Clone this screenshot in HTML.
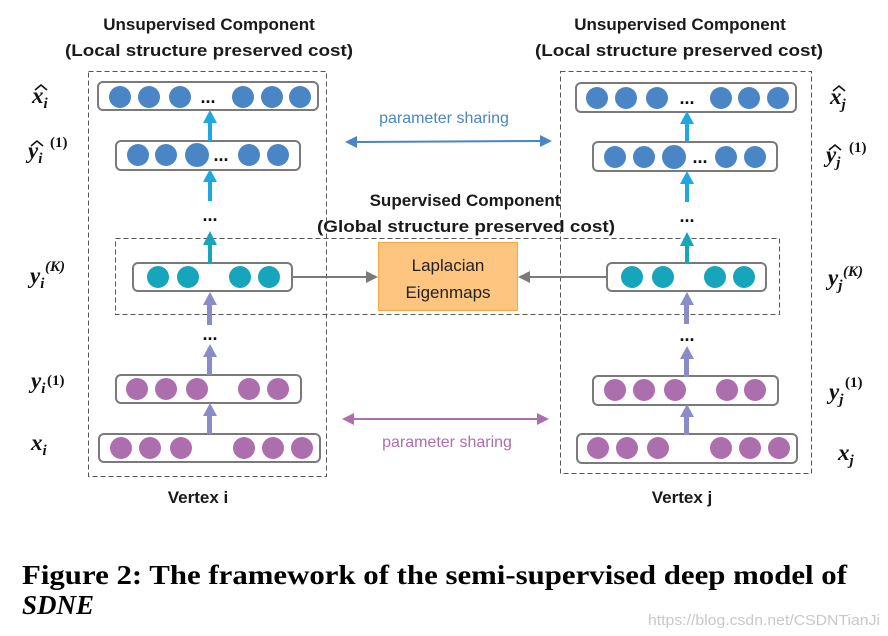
<!DOCTYPE html>
<html><head><meta charset="utf-8"><style>
html,body{margin:0;padding:0;background:#fff;width:888px;height:636px;overflow:hidden}
svg{display:block}
.h{font-family:"Liberation Sans",sans-serif;font-weight:bold;font-size:17px;fill:#1a1a1a}
.m{font-family:"Liberation Serif",serif;font-weight:bold;font-style:italic;font-size:23px;fill:#111}
.s{font-size:15px}
.p{font-family:"Liberation Serif",serif;font-weight:bold;font-size:15px;fill:#111}
.box{fill:#fff;stroke:#7a7a7a;stroke-width:2}
.bl{fill:#4a86c5}.tl{fill:#17a5bb}.pu{fill:#ad6eae}
.dash{fill:none;stroke:#555;stroke-width:1;stroke-dasharray:5,3}
.dots{font-family:"Liberation Sans",sans-serif;font-weight:bold;font-size:18px;fill:#111}
.hat{fill:none;stroke:#111;stroke-width:1.6}
</style></head><body>
<svg width="888" height="636" viewBox="0 0 888 636" xmlns="http://www.w3.org/2000/svg">
<text class="h" x="209" y="30" text-anchor="middle">Unsupervised Component</text>
<text class="h" x="209" y="56" text-anchor="middle" textLength="288" lengthAdjust="spacingAndGlyphs">(Local structure preserved cost)</text>
<text class="h" x="680" y="30" text-anchor="middle">Unsupervised Component</text>
<text class="h" x="679" y="56" text-anchor="middle" textLength="288" lengthAdjust="spacingAndGlyphs">(Local structure preserved cost)</text>
<text class="h" x="465" y="206" text-anchor="middle">Supervised Component</text>
<text class="h" x="466" y="232" text-anchor="middle" textLength="298" lengthAdjust="spacingAndGlyphs">(Global structure preserved cost)</text>

<rect class="dash" x="88.5" y="71.5" width="238" height="405"/>
<rect class="dash" x="560.5" y="71.5" width="251" height="402"/>
<rect class="dash" x="115.5" y="238.5" width="664" height="76"/>

<rect x="378.5" y="242.5" width="139" height="68" fill="#fdc57f" stroke="#f5a742" stroke-width="1"/>
<text x="448" y="271" text-anchor="middle" font-family="Liberation Sans,sans-serif" font-size="17" fill="#222">Laplacian</text>
<text x="448" y="298" text-anchor="middle" font-family="Liberation Sans,sans-serif" font-size="17" fill="#222">Eigenmaps</text>
<line x1="292" y1="277" x2="368" y2="277" stroke="#7a7a7a" stroke-width="2"/>
<polygon points="378,277 366,271 366,283" fill="#7a7a7a"/>
<line x1="607" y1="277" x2="528" y2="277" stroke="#7a7a7a" stroke-width="2"/>
<polygon points="518,277 530,271 530,283" fill="#7a7a7a"/>

<line x1="355" y1="142" x2="542" y2="141" stroke="#4a86c5" stroke-width="2"/>
<polygon points="345,142 357,136 357,148" fill="#4a86c5"/>
<polygon points="552,141 540,135 540,147" fill="#4a86c5"/>
<text x="444" y="123" text-anchor="middle" font-family="Liberation Sans,sans-serif" font-size="16" fill="#4a86c5">parameter sharing</text>
<line x1="352" y1="419" x2="539" y2="419" stroke="#ad6eae" stroke-width="2"/>
<polygon points="342,419 354,413 354,425" fill="#ad6eae"/>
<polygon points="549,419 537,413 537,425" fill="#ad6eae"/>
<text x="447" y="447" text-anchor="middle" font-family="Liberation Sans,sans-serif" font-size="16" fill="#ad6eae">parameter sharing</text>

<rect class="box" x="98" y="82" width="220" height="28" rx="5"/>
<g class="bl"><circle cx="120" cy="97" r="11"/><circle cx="149" cy="97" r="11"/><circle cx="180" cy="97" r="11"/><circle cx="243" cy="97" r="11"/><circle cx="272" cy="97" r="11"/><circle cx="300" cy="97" r="11"/></g>
<text class="dots" x="208" y="103" text-anchor="middle">...</text>
<rect class="box" x="116" y="141" width="184" height="29" rx="5"/>
<g class="bl"><circle cx="138" cy="155" r="11"/><circle cx="166" cy="155" r="11"/><circle cx="197" cy="155" r="12"/><circle cx="249" cy="155" r="11"/><circle cx="278" cy="155" r="11"/></g>
<text class="dots" x="221" y="161" text-anchor="middle">...</text>
<rect class="box" x="133" y="263" width="159" height="28" rx="5"/>
<g class="tl"><circle cx="158" cy="277" r="11"/><circle cx="188" cy="277" r="11"/><circle cx="240" cy="277" r="11"/><circle cx="269" cy="277" r="11"/></g>
<rect class="box" x="116" y="375" width="185" height="28" rx="5"/>
<g class="pu"><circle cx="137" cy="389" r="11"/><circle cx="166" cy="389" r="11"/><circle cx="197" cy="389" r="11"/><circle cx="249" cy="389" r="11"/><circle cx="278" cy="389" r="11"/></g>
<rect class="box" x="99" y="434" width="221" height="28" rx="5"/>
<g class="pu"><circle cx="121" cy="448" r="11"/><circle cx="150" cy="448" r="11"/><circle cx="181" cy="448" r="11"/><circle cx="244" cy="448" r="11"/><circle cx="273" cy="448" r="11"/><circle cx="302" cy="448" r="11"/></g>
<text class="dots" x="210" y="221" text-anchor="middle">...</text>
<text class="dots" x="210" y="340" text-anchor="middle">...</text>
<g>
<rect x="208" y="122" width="4" height="19" fill="#1fa8e0"/><polygon points="210,110 203,123 217,123" fill="#1fa8e0"/>
<rect x="208" y="181" width="4" height="20" fill="#1fa8e0"/><polygon points="210,169 203,182 217,182" fill="#1fa8e0"/>
<rect x="208" y="244" width="4" height="19" fill="#17a5bb"/><polygon points="210,231 203,245 217,245" fill="#17a5bb"/>
<rect x="207" y="303" width="5" height="22" fill="#8b8bc8"/><polygon points="210,292 203,305 217,305" fill="#8b8bc8"/>
<rect x="207" y="356" width="5" height="19" fill="#8b8bc8"/><polygon points="210,344 203,357 217,357" fill="#8b8bc8"/>
<rect x="207" y="415" width="5" height="19" fill="#8b8bc8"/><polygon points="210,403 203,416 217,416" fill="#8b8bc8"/>
</g>

<rect class="box" x="576" y="83" width="220" height="29" rx="5"/>
<g class="bl"><circle cx="597" cy="98" r="11"/><circle cx="626" cy="98" r="11"/><circle cx="657" cy="98" r="11"/><circle cx="721" cy="98" r="11"/><circle cx="749" cy="98" r="11"/><circle cx="778" cy="98" r="11"/></g>
<text class="dots" x="687" y="104" text-anchor="middle">...</text>
<rect class="box" x="593" y="142" width="184" height="29" rx="5"/>
<g class="bl"><circle cx="615" cy="157" r="11"/><circle cx="644" cy="157" r="11"/><circle cx="674" cy="157" r="12"/><circle cx="726" cy="157" r="11"/><circle cx="755" cy="157" r="11"/></g>
<text class="dots" x="700" y="163" text-anchor="middle">...</text>
<rect class="box" x="607" y="263" width="159" height="28" rx="5"/>
<g class="tl"><circle cx="632" cy="277" r="11"/><circle cx="663" cy="277" r="11"/><circle cx="715" cy="277" r="11"/><circle cx="744" cy="277" r="11"/></g>
<rect class="box" x="593" y="376" width="185" height="29" rx="5"/>
<g class="pu"><circle cx="615" cy="390" r="11"/><circle cx="644" cy="390" r="11"/><circle cx="675" cy="390" r="11"/><circle cx="727" cy="390" r="11"/><circle cx="755" cy="390" r="11"/></g>
<rect class="box" x="577" y="434" width="220" height="29" rx="5"/>
<g class="pu"><circle cx="598" cy="448" r="11"/><circle cx="627" cy="448" r="11"/><circle cx="658" cy="448" r="11"/><circle cx="721" cy="448" r="11"/><circle cx="750" cy="448" r="11"/><circle cx="779" cy="448" r="11"/></g>
<text class="dots" x="687" y="222" text-anchor="middle">...</text>
<text class="dots" x="687" y="341" text-anchor="middle">...</text>
<g>
<rect x="685" y="123" width="4" height="19" fill="#1fa8e0"/><polygon points="687,111 680,124 694,124" fill="#1fa8e0"/>
<rect x="685" y="183" width="4" height="19" fill="#1fa8e0"/><polygon points="687,171 680,184 694,184" fill="#1fa8e0"/>
<rect x="685" y="245" width="4" height="18" fill="#17a5bb"/><polygon points="687,232 680,246 694,246" fill="#17a5bb"/>
<rect x="684" y="304" width="5" height="20" fill="#8b8bc8"/><polygon points="687,292 680,305 694,305" fill="#8b8bc8"/>
<rect x="684" y="358" width="5" height="19" fill="#8b8bc8"/><polygon points="687,346 680,359 694,359" fill="#8b8bc8"/>
<rect x="684" y="416" width="5" height="19" fill="#8b8bc8"/><polygon points="687,404 680,417 694,417" fill="#8b8bc8"/>
</g>

<text class="h" x="198" y="503" text-anchor="middle">Vertex i</text>
<text class="h" x="682" y="503" text-anchor="middle">Vertex j</text>

<!-- left math labels -->
<text class="m" x="32" y="103">x<tspan class="s" dy="5">i</tspan></text>
<polyline class="hat" points="35,90 41,85 47,90"/>
<text class="m" x="28" y="158">y<tspan class="s" dy="5">i</tspan></text>
<polyline class="hat" points="31,146 37,141 43,146"/>
<text class="p" x="50" y="147">(1)</text>
<text class="m" x="30" y="283">y<tspan class="s" dy="5">i</tspan></text>
<text class="p" x="45" y="271" font-style="italic">(K)</text>
<text class="m" x="31" y="388">y<tspan class="s" dy="5">i</tspan></text>
<text class="p" x="47" y="385">(1)</text>
<text class="m" x="31" y="450">x<tspan class="s" dy="5">i</tspan></text>

<!-- right math labels -->
<text class="m" x="830" y="104">x<tspan class="s" dy="5">j</tspan></text>
<polyline class="hat" points="833,91 839,86 845,91"/>
<text class="m" x="826" y="162">y<tspan class="s" dy="5">j</tspan></text>
<polyline class="hat" points="829,150 835,145 841,150"/>
<text class="p" x="849" y="152">(1)</text>
<text class="m" x="828" y="285">y<tspan class="s" dy="5">j</tspan></text>
<text class="p" x="843" y="276" font-style="italic">(K)</text>
<text class="m" x="829" y="399">y<tspan class="s" dy="5">j</tspan></text>
<text class="p" x="845" y="387">(1)</text>
<text class="m" x="838" y="460">x<tspan class="s" dy="5">j</tspan></text>

<text x="22" y="584" font-family="Liberation Serif,serif" font-weight="bold" font-size="27" fill="#000" textLength="825" lengthAdjust="spacingAndGlyphs">Figure 2:  The framework of the semi-supervised deep model of</text>
<text x="22" y="614" font-family="Liberation Serif,serif" font-style="italic" font-weight="bold" font-size="27" fill="#000">SDNE</text>
<text x="648" y="625" font-family="Liberation Sans,sans-serif" font-size="15" fill="#c8c8c8" textLength="232" lengthAdjust="spacingAndGlyphs">https://blog.csdn.net/CSDNTianJi</text>
</svg>
</body></html>
